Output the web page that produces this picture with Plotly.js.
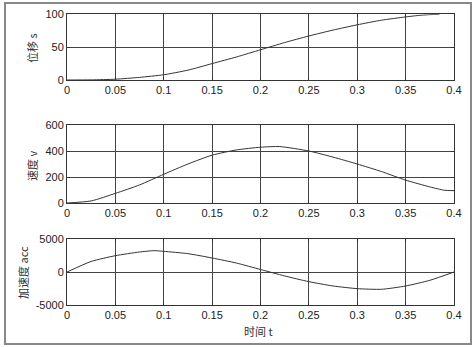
<!DOCTYPE html>
<html>
<head>
<meta charset="utf-8">
<script src="https://cdn.plot.ly/plotly-3.0.1.min.js"></script>
<style>html,body{margin:0;padding:0;background:#fff;}#chart{width:474px;height:347px;}</style>
</head>
<body>
<div id="chart"></div>
<script>
// Displacement s
const tS = [0, 0.025, 0.05, 0.075, 0.1, 0.125, 0.15, 0.175, 0.2, 0.225, 0.25, 0.275, 0.3, 0.325, 0.35, 0.365, 0.375, 0.385];
const sVals = [0, 0.2, 1.2, 4, 8, 15, 25, 35, 46, 57, 67, 76, 84, 91, 96, 98.5, 99.5, 100];
// Velocity v
const tV = [0, 0.025, 0.05, 0.075, 0.1, 0.125, 0.15, 0.175, 0.2, 0.22, 0.25, 0.275, 0.3, 0.325, 0.35, 0.375, 0.39, 0.4];
const vVals = [0, 16, 74, 139, 221, 300, 368, 408, 429, 434, 400, 353, 300, 242, 176, 124, 98, 95];
// Acceleration acc
const tA = [0, 0.025, 0.05, 0.075, 0.09, 0.1, 0.125, 0.15, 0.175, 0.2, 0.225, 0.25, 0.275, 0.3, 0.325, 0.35, 0.375, 0.4];
const aVals = [0, 1600, 2470, 3030, 3230, 3130, 2780, 2120, 1360, 380, -600, -1460, -2120, -2520, -2620, -2120, -1260, 0];

const xTicks = [0, 0.05, 0.1, 0.15, 0.2, 0.25, 0.3, 0.35, 0.4];
const xTickText = ['0', '0.05', '0.1', '0.15', '0.2', '0.25', '0.3', '0.35', '0.4'];
const sTicks = [0, 50, 100];
const vTicks = [0, 200, 400, 600];
const aTicks = [-5000, 0, 5000];
const aTickText = ['-5000', '0', '5000'];
const yTitles = ['位移 s', '速度 v', '加速度 acc'];
const xTitle = '时间 t';

const W = 474, H = 347;
const lineStyle = {color: '#333', width: 1, shape: 'spline', smoothing: 0.6};
const traces = [
  {x: tS, y: sVals, xaxis: 'x', yaxis: 'y', mode: 'lines', line: lineStyle},
  {x: tV, y: vVals, xaxis: 'x2', yaxis: 'y2', mode: 'lines', line: lineStyle},
  {x: tA, y: aVals, xaxis: 'x3', yaxis: 'y3', mode: 'lines', line: lineStyle}
];

const xd = [67 / W, 454 / W];
function py(p) { return 1 - p / H; }
const font = {family: 'Liberation Sans, Arial, sans-serif', size: 11, color: '#222'};
const tfont = {family: 'Noto Sans CJK SC, Liberation Sans, sans-serif', size: 11, color: '#333'};

function xAxis(anchor) {
  return {
    domain: xd, anchor: anchor, range: [0, 0.4], tickvals: xTicks, ticktext: xTickText,
    showgrid: true, gridcolor: '#444', gridwidth: 1, zeroline: false,
    showline: true, linecolor: '#333', linewidth: 1, mirror: 'allticks',
    ticks: 'inside', ticklen: 3, tickcolor: '#333', tickfont: font
  };
}
function yAxis(anchor, dom, range, ticks, text) {
  return {
    domain: dom, anchor: anchor, range: range, tickvals: ticks, ticktext: text || ticks.map(String),
    showgrid: true, gridcolor: '#444', gridwidth: 1, zeroline: false,
    showline: true, linecolor: '#333', linewidth: 1, mirror: 'allticks',
    ticks: 'inside', ticklen: 3, tickcolor: '#333', tickfont: font
  };
}

const layout = {
  width: W, height: H,
  margin: {l: 0, r: 0, t: 0, b: 0},
  paper_bgcolor: '#fff', plot_bgcolor: '#fff',
  showlegend: false,
  xaxis: xAxis('y'),
  yaxis: yAxis('x', [py(80), py(14.3)], [0, 100], sTicks),
  xaxis2: xAxis('y2'),
  yaxis2: yAxis('x2', [py(203), py(125)], [0, 600], vTicks),
  xaxis3: xAxis('y3'),
  yaxis3: yAxis('x3', [py(305), py(239)], [-5000, 5000], aTicks, aTickText),
  annotations: [
    {text: yTitles[0], xref: 'paper', yref: 'paper', x: 32 / W, y: py(48), textangle: -90, showarrow: false, font: tfont, xanchor: 'center', yanchor: 'middle'},
    {text: yTitles[1], xref: 'paper', yref: 'paper', x: 32 / W, y: py(166), textangle: -90, showarrow: false, font: tfont, xanchor: 'center', yanchor: 'middle'},
    {text: yTitles[2], xref: 'paper', yref: 'paper', x: 23 / W, y: py(273), textangle: -90, showarrow: false, font: tfont, xanchor: 'center', yanchor: 'middle'},
    {text: xTitle, xref: 'paper', yref: 'paper', x: 258 / W, y: py(331), showarrow: false, font: tfont, xanchor: 'center', yanchor: 'middle'}
  ],
  shapes: [
    {type: 'rect', xref: 'paper', yref: 'paper', x0: 5 / W, x1: 471 / W, y0: py(344), y1: py(3), line: {color: '#888', width: 2}}
  ]
};

Plotly.newPlot('chart', traces, layout, {staticPlot: true, displayModeBar: false});
</script>
</body>
</html>
